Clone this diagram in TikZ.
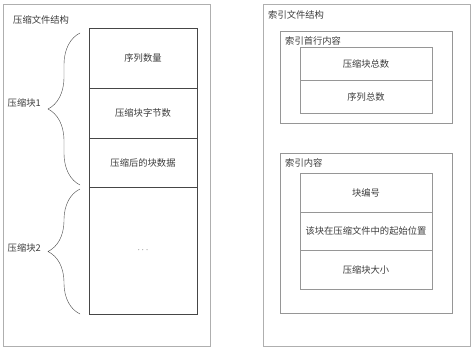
\documentclass[tikz,border=0pt]{standalone}
\usepackage{fontspec}
\setmainfont{Noto Sans CJK SC}
\usetikzlibrary{positioning,decorations.pathreplacing}
\definecolor{frm}{RGB}{175,175,175}
\definecolor{blk}{RGB}{70,70,70}
\definecolor{idx}{RGB}{150,150,150}
\definecolor{txt}{RGB}{60,60,60}

\begin{document}
\begin{tikzpicture}[x=1pt,y=1pt,font=\fontsize{9.3}{11}\selectfont,text=txt,
  frame/.style={draw=frm,anchor=north west,inner sep=0pt,outer sep=0pt},
  cell/.style={draw=blk,semithick,minimum width=108pt,inner sep=0pt,outer sep=0pt},
  sub/.style={draw=idx,anchor=north west,minimum width=172pt,inner sep=0pt,outer sep=0pt},
  icell/.style={draw=idx,minimum width=132pt,inner sep=0pt,outer sep=0pt},
  ttl/.style={anchor=west,inner sep=0pt},
  brc/.style={draw=blk,decorate,decoration={brace,amplitude=32pt}}]
  \useasboundingbox (0,0) rectangle (474,-351);
  % compressed file
  \node[frame,minimum width=207pt,minimum height=342pt] (cf) at (3,-4) {};
  \node[ttl] (cft) at (13,-20) {压缩文件结构};
  \node[cell,minimum height=60pt,anchor=north west] (seq) at (89,-28) {序列数量};
  \node[cell,minimum height=50pt,below=0pt of seq] (nb) {压缩块字节数};
  \node[cell,minimum height=49pt,below=0pt of nb] (dat) {压缩后的块数据};
  \node[cell,minimum height=127pt,below=0pt of dat] (more) {$\cdots$};
  \draw[brc] ([xshift=-9pt,yshift=2pt]dat.south west) -- ([xshift=-9pt,yshift=-5pt]seq.north west);
  \draw[brc] ([xshift=-9pt]more.south west) -- ([xshift=-9pt,yshift=-2pt]more.north west);
  \node[anchor=east,inner sep=0pt] (c1) at (41,-103) {压缩块1};
  \node[anchor=east,inner sep=0pt] (c2) at (41,-248) {压缩块2};
  % index file
  \node[frame,minimum width=207pt,minimum height=342pt] (xf) at (263,-4) {};
  \node[ttl] (xft) at (268,-15) {索引文件结构};
  \node[sub,minimum height=92pt] (hd) at (280,-31) {};
  \node[ttl] (hdt) at (285,-41) {索引首行内容};
  \node[icell,minimum height=33pt,anchor=north west] (tot) at (300,-47) {压缩块总数};
  \node[icell,minimum height=33pt,below=0pt of tot] (sn) {序列总数};
  \node[sub,minimum height=160pt] (ix) at (280,-153) {};
  \node[ttl] (ixt) at (285,-163) {索引内容};
  \node[icell,minimum height=39pt,anchor=north west] (bid) at (300,-173) {块编号};
  \node[icell,minimum height=38pt,below=0pt of bid] (pos) {该块在压缩文件中的起始位置};
  \node[icell,minimum height=39pt,below=0pt of pos] (sz) {压缩块大小};
\end{tikzpicture}
\end{document}
